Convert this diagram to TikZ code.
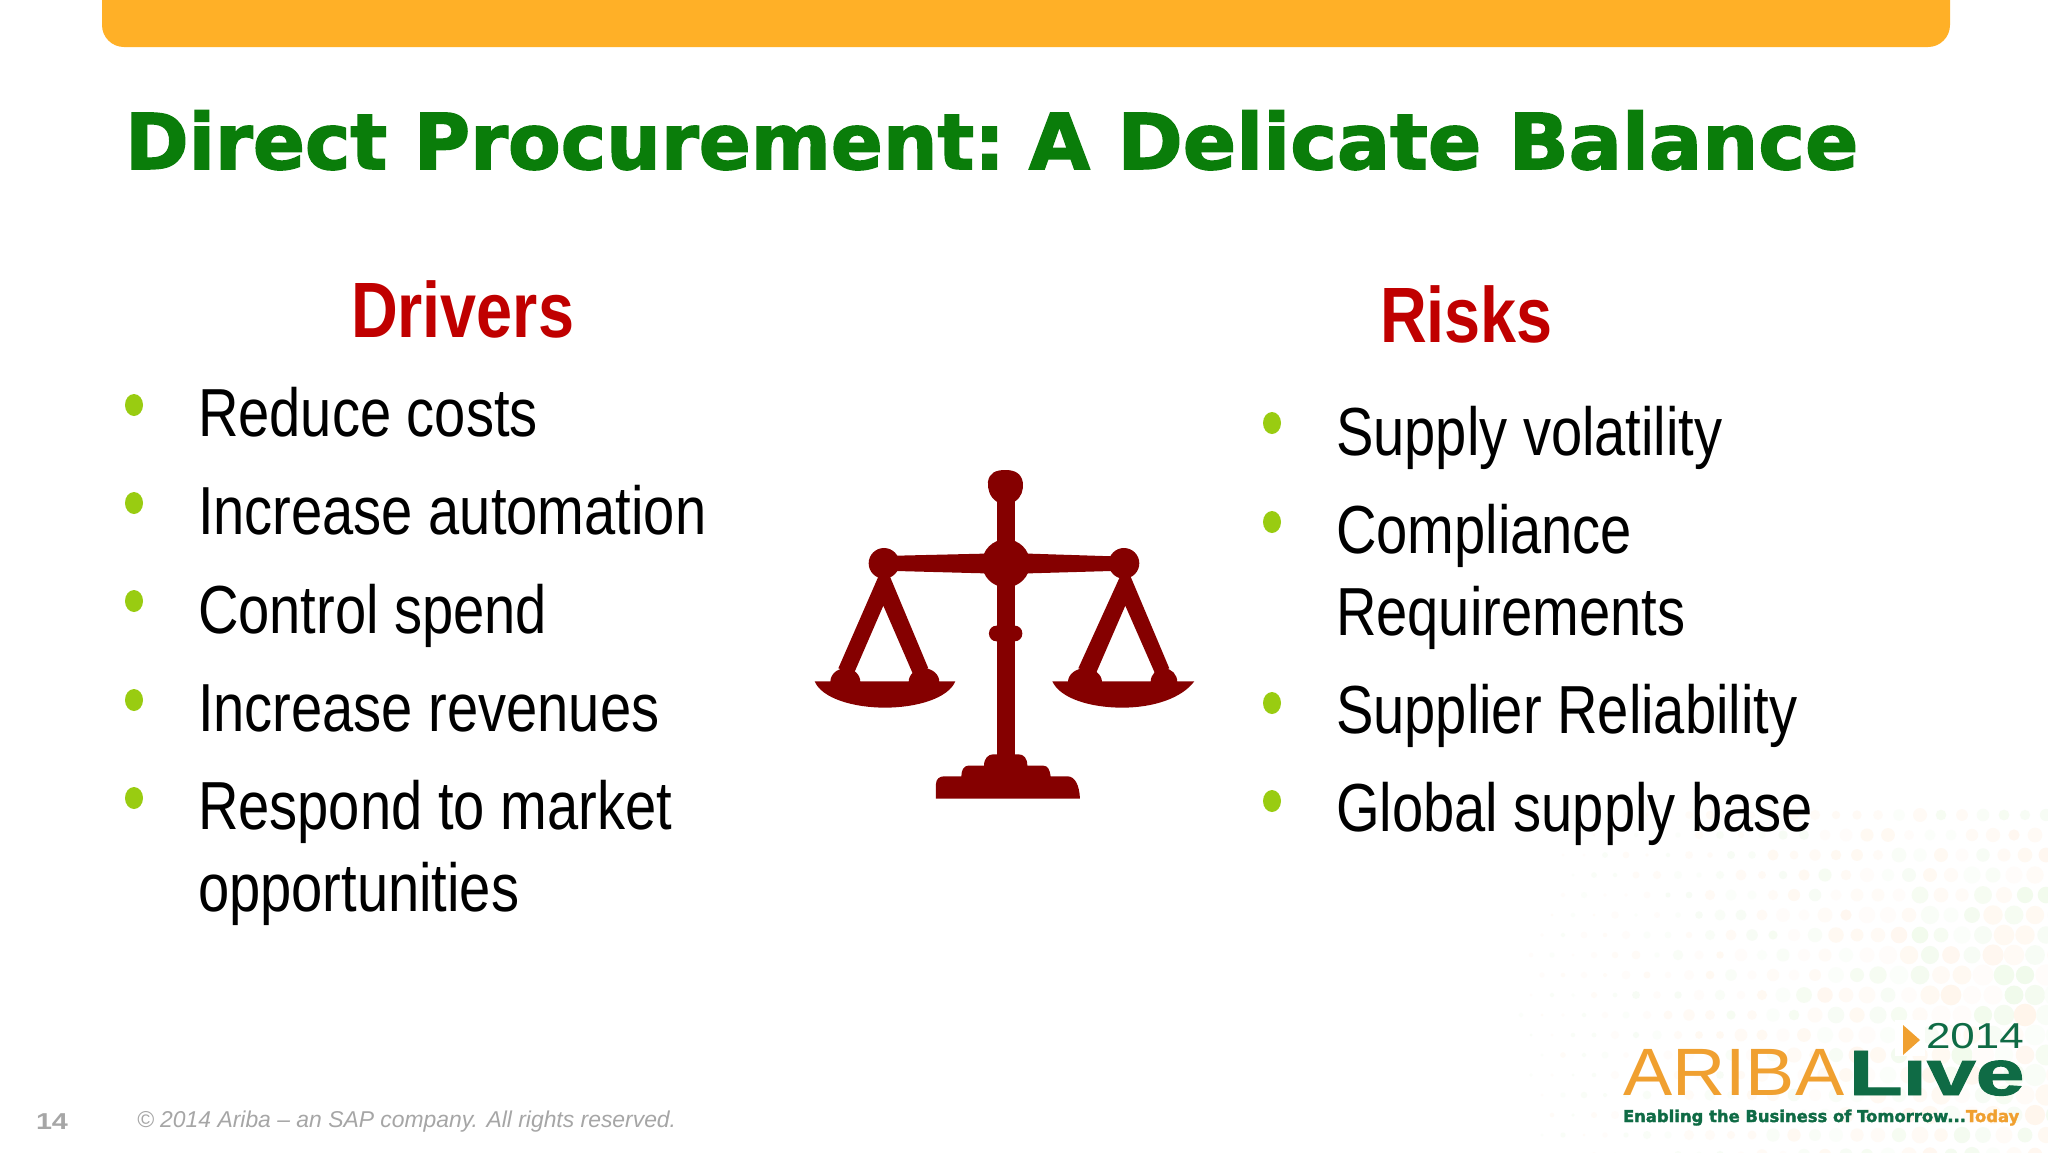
\documentclass[tikz,border=0pt]{standalone}
\usepackage{fontspec}
\usepackage{graphicx}
\setmainfont{Liberation Sans}
\newfontfamily\narrowf[FakeStretch=0.825]{Liberation Sans}
\newfontfamily\titlef[BoldFeatures={FakeBold=2}]{DejaVu Sans}
\newfontfamily\livef[BoldFeatures={FakeBold=1.5}]{Liberation Sans}
\definecolor{barorange}{HTML}{FFB027}
\definecolor{titlegreen}{HTML}{0A7D0A}
\definecolor{headred}{HTML}{C00000}
\definecolor{bulletgreen}{HTML}{99CC11}
\definecolor{scalered}{HTML}{850000}
\definecolor{footgray}{HTML}{A6A6A6}
\definecolor{logoorange}{HTML}{F0A030}
\definecolor{logogreen}{HTML}{0F6B45}
\tikzset{
  x=1pt,y=-1pt,
  txt/.style={anchor=base west,inner sep=0pt,outer sep=0pt},
  itemtxt/.style={txt,font=\narrowf\fontsize{68}{68}\selectfont,text=black},
  headtxt/.style={txt,font=\narrowf\bfseries\fontsize{78.5}{78.5}\selectfont,text=headred},
  bulletdot/.style={fill=bulletgreen,draw=none},
  metal/.style={fill=scalered,draw=none},
}
\begin{document}
\begin{tikzpicture}
\useasboundingbox (0,0) rectangle (2048,1152);
\fill[white] (0,0) rectangle (2048,1152);
% halftone background
\pgfmathsetseed{14}
\begin{scope}
\clip (0,0) rectangle (2048,1152);
\foreach \i in {0,...,26}{
  \foreach \j in {0,...,17}{
    \pgfmathsetmacro{\px}{1500+\i*21+mod(\j,2)*10}
    \pgfmathsetmacro{\py}{815+\j*20}
    \pgfmathsetmacro{\dd}{veclen(\px-2040,(\py-1020)*1.25)}
    \pgfmathsetmacro{\rr}{max(1.5,10*(1-\dd/520)+2.5*rnd)}
    \pgfmathsetmacro{\tint}{int(2+7*rnd*(1-\dd/620))}
    \pgfmathparse{\dd<520 ? 1 : 0}
    \ifnum\pgfmathresult=1
      \pgfmathparse{rnd<0.6 ? 1 : 0}
      \ifnum\pgfmathresult=1
        \fill[orange!\tint!white] (\px,\py) circle[radius=\rr];
      \else
        \fill[green!50!olive!\tint!white] (\px,\py) circle[radius=\rr];
      \fi
    \fi
  }
}
\end{scope}
% top bar
\fill[barorange,rounded corners=22pt] (102,-40) rectangle (1950,47);
% title
\node[txt,font=\titlef\bfseries\fontsize{77}{77}\selectfont,text=titlegreen] (title) at (125,169) {\scalebox{0.997}[1]{Direct Procurement:}\hspace{24pt}\scalebox{1.0235}[1]{A Delicate Balance}};
% headings
\node[headtxt] (drivers) at (351,337) {Drivers};
\node[headtxt] (risks) at (1380,342.5) {Risks};
% left list
\foreach \n/\y in {a/405,b/503,c/601,d/700,e/798}{
  \fill[bulletdot] (134,\y) ellipse[x radius=9,y radius=11];
}
\node[itemtxt] (l1) at (198,436.5) {Reduce costs};
\node[itemtxt] (l2) at (198,534.5) {Increase automation};
\node[itemtxt] (l3) at (198,633) {Control spend};
\node[itemtxt] (l4) at (198,731.5) {Increase revenues};
\node[itemtxt] (l5) at (198,829.5) {Respond to market};
\node[itemtxt] (l6) at (198,911) {opportunities};
% right list
\foreach \n/\y in {a/423,b/522,c/703,d/801}{
  \fill[bulletdot] (1272,\y) ellipse[x radius=9,y radius=11];
}
\node[itemtxt] (r1) at (1336,455) {Supply volatility};
\node[itemtxt] (r2) at (1336,553) {Compliance};
\node[itemtxt] (r3) at (1336,635) {Requirements};
\node[itemtxt] (r4) at (1336,733) {Supplier Reliability};
\node[itemtxt] (r5) at (1336,831) {Global supply base};
% scales
\begin{scope}[shift={(780,440)},x=0.3333pt,y=-0.3333pt]
  % post and knob
  \fill[metal] (650,170) rectangle (704,960);
  \fill[metal] (650,185) .. controls (628,170) and (622,145) .. (624,125)
     .. controls (628,100) and (645,90) .. (676,90)
     .. controls (705,90) and (725,100) .. (729,130)
     .. controls (730,150) and (725,172) .. (704,185) -- cycle;
  % beam
  \fill[metal] (310,348) -- (610,341) -- (750,341) -- (1030,350) -- (1030,392) -- (750,400) -- (610,400) -- (310,392) -- cycle;
  \fill[metal] (678,370) circle[radius=72];
  \fill[metal] (312,370) circle[radius=46];
  \fill[metal] (1032,370) circle[radius=46];
  \fill[metal,rounded corners=7.5pt] (627,557) rectangle (727,604);
  % hangers
  \fill[metal] (295,410) -- (175,685) -- (222,700) -- (310,497) -- (398,700) -- (445,685) -- (330,410) -- cycle;
  \fill[metal] (1020,410) -- (895,685) -- (948,700) -- (1036,497) -- (1125,700) -- (1168,685) -- (1052,410) -- cycle;
  % pans
  \fill[metal] (104,724) -- (526,724) .. controls (505,775) and (410,803) .. (315,803) .. controls (220,803) and (125,775) .. (104,724) -- cycle;
  \fill[metal] (817,724) -- (1243,724) .. controls (1205,775) and (1120,803) .. (1027,803) .. controls (930,803) and (840,775) .. (817,724) -- cycle;
  \fill[metal] (151,726) arc[start angle=180,end angle=360,x radius=45,y radius=41] -- cycle;
  \fill[metal] (386,726) arc[start angle=180,end angle=360,x radius=46,y radius=41] -- cycle;
  \fill[metal] (864,726) arc[start angle=180,end angle=360,x radius=51,y radius=41] -- cycle;
  \fill[metal] (1112,726) arc[start angle=180,end angle=360,x radius=40,y radius=41] -- cycle;
  % base
  \fill[metal] (468,1076) -- (468,1032) .. controls (468,1018) and (478,1009) .. (492,1009)
     -- (544,1009) .. controls (544,990) and (552,977) .. (565,977) -- (612,977)
     .. controls (612,955) and (625,943) .. (640,943) -- (715,943) .. controls (732,943) and (742,955) .. (742,977)
     -- (790,977) .. controls (803,977) and (810,990) .. (812,1009) -- (862,1009)
     .. controls (885,1009) and (898,1035) .. (900,1076) -- cycle;
\end{scope}
% footer
\node[txt,font=\bfseries\fontsize{23}{23}\selectfont,text=footgray] (pageno) at (36,1129) {\scalebox{1.25}[1]{14}};
\node[txt,font=\itshape\fontsize{22.9}{22.9}\selectfont,text=footgray] (copy) at (137,1127) {© 2014 Ariba – an SAP company. All rights reserved.};
% logo
\node[txt,font=\fontsize{67}{67}\selectfont,text=logoorange] (ariba) at (1623,1095) {\scalebox{1.1}[1]{ARIBA}};
\node[txt,font=\livef\bfseries\fontsize{64}{64}\selectfont,text=logogreen] (live) at (1849,1095) {\scalebox{1.37}[1]{Live}};
\fill[white] (1895,1020) rectangle (1925,1056);
\fill[logoorange] (1903,1025) -- (1920,1040) -- (1903,1055) -- cycle;
\node[txt,font=\fontsize{36}{36}\selectfont,text=logogreen] (year) at (1926,1048) {\scalebox{1.22}[1]{2014}};
\node[txt,font=\titlef\bfseries\fontsize{16.4}{16.4}\selectfont,text=logogreen] (tag) at (1623,1122) {Enabling the Business of Tomorrow...\textcolor{logoorange}{Today}};
\end{tikzpicture}
\end{document}
